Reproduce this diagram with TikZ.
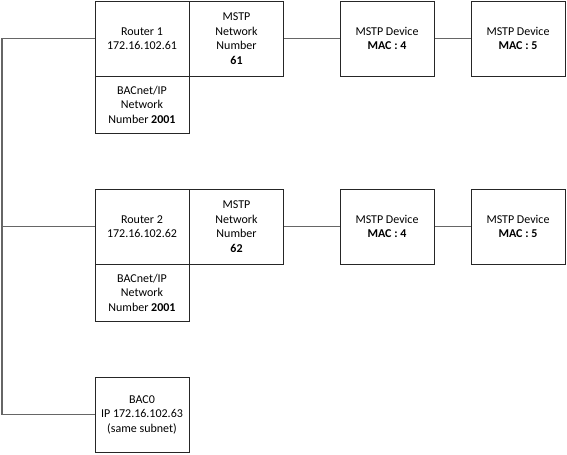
\documentclass[tikz,border=0pt]{standalone}
\usepackage{fontspec}
\setmainfont{Carlito}
\usetikzlibrary{positioning}

\begin{document}
\begin{tikzpicture}[x=0.75pt,y=-0.75pt,
  box/.style={rectangle, draw=black!85, line width=0.75pt, inner sep=0pt, minimum width=70.5pt, minimum height=56.25pt, align=center, font=\fontsize{9}{10.9}\selectfont},
  ipbox/.style={box, minimum height=42.75pt},
  link/.style={draw=black!60, line width=0.9pt}
]
  \useasboundingbox (0,0) rectangle (567,454);

  % router 1 and its MSTP trunk
  \node[box] (rtr1) at (142,38.5) {Router 1\\172.16.102.61};
  \node[box] (net1) at (236.5,38.5) {MSTP\\Network\\Number\\\textbf{61}};
  \node[ipbox] (ip1) at (142,104.5) {BACnet/IP\\Network\\Number \textbf{2001}};
  \node[box] (dev14) at (387,38.5) {MSTP Device\\\textbf{MAC : 4}};
  \node[box] (dev15) at (518,38.5) {MSTP Device\\\textbf{MAC : 5}};

  % router 2 and its MSTP trunk
  \node[box] (rtr2) at (142,226.5) {Router 2\\172.16.102.62};
  \node[box] (net2) at (236.5,226.5) {MSTP\\Network\\Number\\\textbf{62}};
  \node[ipbox] (ip2) at (142,292.5) {BACnet/IP\\Network\\Number \textbf{2001}};
  \node[box] (dev24) at (387,226.5) {MSTP Device\\\textbf{MAC : 4}};
  \node[box] (dev25) at (518,226.5) {MSTP Device\\\textbf{MAC : 5}};

  \node[box] (bac0) at (142,414.5) {BAC0\\IP 172.16.102.63\\(same subnet)};

  % IP bus
  \coordinate (bustop) at (2,38.5);
  \coordinate (busbot) at (2,414.5);
  \draw[link] (rtr1.west) -- (bustop) -- (busbot) -- (bac0.west);
  \draw[link] (rtr2.west) -- (rtr2.west -| bustop);

  \draw[link] (net1) -- (dev14);
  \draw[link] (dev14) -- (dev15);
  \draw[link] (net2) -- (dev24);
  \draw[link] (dev24) -- (dev25);
\end{tikzpicture}
\end{document}
